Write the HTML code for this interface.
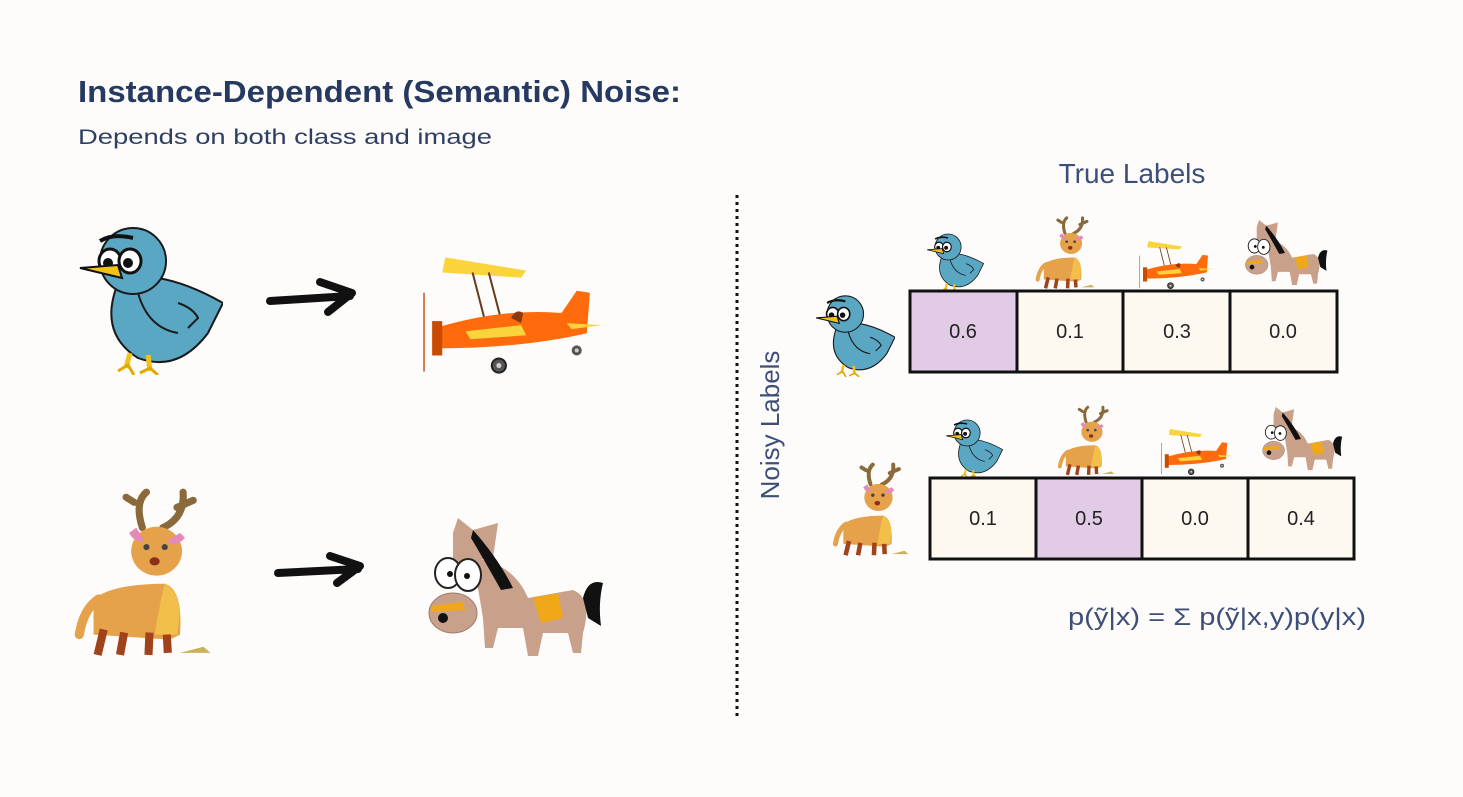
<!DOCTYPE html>
<html><head><meta charset="utf-8"><style>
body{margin:0;background:#fdfcfa;}
svg{display:block}
</style></head><body>
<svg width="1463" height="797" viewBox="0 0 1463 797" xmlns="http://www.w3.org/2000/svg">
<defs>
<symbol id="bird" viewBox="0 0 145 152">
 <path d="M40 60 Q20 110 60 135 Q100 150 130 110 L145 80 Q110 60 80 55 Z" fill="#5aa7c4" stroke="#1a1a1a" stroke-width="2"/>
 <circle cx="55" cy="38" r="33" fill="#5aa7c4" stroke="#1a1a1a" stroke-width="2"/>
 <path d="M60 70 Q70 105 100 110" fill="none" stroke="#1a1a1a" stroke-width="2"/>
 <path d="M100 80 Q115 85 120 95 L110 105" fill="none" stroke="#1a1a1a" stroke-width="2"/>
 <ellipse cx="32" cy="38" rx="11" ry="12" fill="#fff" stroke="#111" stroke-width="3"/>
 <ellipse cx="52" cy="38" rx="11" ry="12" fill="#fff" stroke="#111" stroke-width="3"/>
 <circle cx="30" cy="40" r="5" fill="#111"/><circle cx="50" cy="40" r="5" fill="#111"/>
 <path d="M22 18 Q35 10 55 15" stroke="#111" stroke-width="4" fill="none"/>
 <path d="M2 45 L40 42 L44 55 Z" fill="#f2c21b" stroke="#111" stroke-width="2"/>
 <path d="M52 130 L48 145 M70 132 L72 148" stroke="#f2c21b" stroke-width="5"/>
 <path d="M40 148 L50 142 L56 152 M62 150 L72 145 L80 152" stroke="#e0a800" stroke-width="3" fill="none"/>
</symbol>
<symbol id="plane" viewBox="0 0 180 120">
 <path d="M25 5 L105 18 L100 25 L22 20 Z" fill="#fbd43c"/>
 <path d="M52 20 L70 90 M68 20 L85 85" stroke="#6a3a1a" stroke-width="2"/>
 <path d="M15 75 Q80 55 140 60 L155 38 L168 40 L165 80 Q100 95 15 95 Z" fill="#ff6b0c"/>
 <rect x="12" y="68" width="10" height="34" fill="#c94c00"/>
 <line x1="4" y1="40" x2="4" y2="118" stroke="#d08050" stroke-width="2"/>
 <path d="M45 78 L100 72 L105 82 L50 86 Z" fill="#fbd43c"/>
 <path d="M145 70 L180 72 L150 76 Z" fill="#fbd43c"/>
 <path d="M90 65 Q95 55 102 60 L100 70 Z" fill="#8a3a10"/>
 <circle cx="78" cy="112" r="7" fill="#555" stroke="#222" stroke-width="2"/><circle cx="78" cy="112" r="2.5" fill="#ccc"/>
 <circle cx="155" cy="97" r="5" fill="#555"/><circle cx="155" cy="97" r="2" fill="#ccc"/>
</symbol>
<symbol id="deer" viewBox="0 0 150 175">
 <path d="M72 10 Q60 20 68 45 M60 20 L52 15 M108 10 Q110 35 88 45 M102 25 L118 18" stroke="#8a6a3a" stroke-width="7" fill="none" stroke-linecap="round"/>
 <path d="M20 115 Q40 100 90 100 Q108 105 105 150 L95 155 L20 150 Z" fill="#e6a24a"/>
 <path d="M90 100 Q110 110 102 150 L80 150 Q85 120 90 100 Z" fill="#f2c04a"/>
 <path d="M25 115 Q10 125 6 150" stroke="#e6a24a" stroke-width="9" fill="none" stroke-linecap="round"/>
 <path d="M30 145 L24 170 M50 148 L46 170 M75 148 L74 170 M92 150 L93 168" stroke="#a0421a" stroke-width="8"/>
 <ellipse cx="82" cy="68" rx="25" ry="24" fill="#e6a24a"/>
 <path d="M55 50 Q60 60 70 58 L62 45 Z M110 55 Q100 65 92 58 L105 50 Z" fill="#e48ab8"/>
 <ellipse cx="80" cy="78" rx="5" ry="4" fill="#8a3018"/>
 <circle cx="72" cy="64" r="3" fill="#444"/><circle cx="90" cy="64" r="3" fill="#444"/>
 <path d="M105 168 L135 168 L128 162 Z" fill="#c9b25a"/>
</symbol>
<symbol id="horse" viewBox="0 0 180 140">
 <path d="M50 40 Q90 45 105 80 L150 72 Q170 80 160 115 L158 135 L150 135 L145 115 L120 115 L115 138 L105 138 L100 110 L75 110 L70 130 L62 130 L60 100 Z" fill="#c9a08a"/>
 <path d="M30 15 L35 0 L50 12 L75 5 L70 40 L30 45 Z" fill="#c9a08a"/>
 <path d="M50 12 Q75 40 90 70 L78 72 Q60 40 48 20 Z" fill="#111"/>
 <path d="M160 80 Q165 60 180 65 Q175 85 178 108 L165 100 Z" fill="#111"/>
 <ellipse cx="30" cy="95" rx="24" ry="20" fill="#c9a08a" stroke="#a07a66"/>
 <circle cx="20" cy="100" r="5" fill="#111"/>
 <ellipse cx="25" cy="55" rx="13" ry="15" fill="#fff" stroke="#222" stroke-width="2"/>
 <ellipse cx="45" cy="57" rx="13" ry="16" fill="#fff" stroke="#222" stroke-width="2"/>
 <circle cx="27" cy="56" r="3" fill="#111"/><circle cx="44" cy="58" r="3" fill="#111"/>
 <path d="M8 88 L40 84 L42 92 L8 94 Z" fill="#f0a818"/>
 <path d="M110 80 L135 75 L140 100 L118 105 Z" fill="#f0a818"/>
</symbol>
</defs>

<text x="78" y="102" font-family="Liberation Sans, sans-serif" font-weight="bold" font-size="31" fill="#263a61" textLength="603" lengthAdjust="spacingAndGlyphs">Instance-Dependent (Semantic) Noise:</text>
<text x="78" y="144" font-family="Liberation Sans, sans-serif" font-size="21" fill="#2e3f63" textLength="414" lengthAdjust="spacingAndGlyphs">Depends on both class and image</text>

<use href="#bird" x="78" y="223" width="145" height="152"/>
<use href="#plane" x="420" y="252" width="182" height="122"/>
<use href="#deer" x="72" y="482" width="155" height="178"/>
<use href="#horse" x="422" y="518" width="182" height="140"/>

<path d="M270 301 L350 296 M320 282 L352 293 L328 312" stroke="#111" stroke-width="8" fill="none" stroke-linecap="round" stroke-linejoin="round"/>
<path d="M278 573 L358 569 M330 556 L360 566 L337 583" stroke="#111" stroke-width="8" fill="none" stroke-linecap="round" stroke-linejoin="round"/>

<line x1="737" y1="195" x2="737" y2="718" stroke="#111" stroke-width="3" stroke-dasharray="3,4"/>

<text x="1132" y="183" text-anchor="middle" font-family="Liberation Sans, sans-serif" font-size="28" fill="#3d4f78">True Labels</text>
<text transform="translate(779,425) rotate(-90)" text-anchor="middle" font-family="Liberation Sans, sans-serif" font-size="26" fill="#3d4f78">Noisy Labels</text>

<use href="#bird" x="925" y="232" width="60" height="60"/>
<use href="#deer" x="1035" y="213" width="66" height="78"/>
<use href="#plane" x="1138" y="238" width="75" height="52"/>
<use href="#horse" x="1242" y="220" width="86" height="66"/>
<use href="#bird" x="815" y="293" width="80" height="84"/>

<use href="#bird" x="945" y="418" width="58" height="60"/>
<use href="#deer" x="1055" y="403" width="68" height="74"/>
<use href="#plane" x="1158" y="427" width="76" height="48"/>
<use href="#horse" x="1257" y="407" width="88" height="64"/>
<use href="#deer" x="832" y="457" width="85" height="103"/>

<g font-family="Liberation Sans, sans-serif" font-size="20" fill="#222" text-anchor="middle">
 <rect x="910" y="291" width="107" height="81" fill="#e2cbe6"/>
 <rect x="1017" y="291" width="320" height="81" fill="#fdf9f1"/>
 <rect x="910" y="291" width="427" height="81" fill="none" stroke="#111" stroke-width="3"/>
 <path d="M1017 291 V372 M1123 291 V372 M1230 291 V372" stroke="#111" stroke-width="3"/>
 <text x="963" y="338">0.6</text><text x="1070" y="338">0.1</text><text x="1177" y="338">0.3</text><text x="1283" y="338">0.0</text>

 <rect x="930" y="478" width="106" height="81" fill="#fdf9f1"/>
 <rect x="1036" y="478" width="106" height="81" fill="#e2cbe6"/>
 <rect x="1142" y="478" width="212" height="81" fill="#fdf9f1"/>
 <rect x="930" y="478" width="424" height="81" fill="none" stroke="#111" stroke-width="3"/>
 <path d="M1036 478 V559 M1142 478 V559 M1248 478 V559" stroke="#111" stroke-width="3"/>
 <text x="983" y="525">0.1</text><text x="1089" y="525">0.5</text><text x="1195" y="525">0.0</text><text x="1301" y="525">0.4</text>
</g>

<text x="1068" y="625" font-family="Liberation Sans, DejaVu Sans, sans-serif" font-size="24" fill="#3d4f78" textLength="298" lengthAdjust="spacingAndGlyphs">p(ỹ|x) = Σ p(ỹ|x,y)p(y|x)</text>
</svg>
</body></html>
